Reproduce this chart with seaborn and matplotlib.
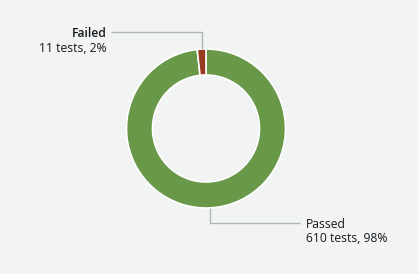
import numpy as np
import matplotlib
matplotlib.use("Agg")
import matplotlib.pyplot as plt
import seaborn as sns

labels = ["Passed", "Failed"]
counts = [610, 11]
colors = ["#6a9849", "#983a1f"]

sns.set_theme(style="white")
plt.rcParams["font.family"] = ["Open Sans", "DejaVu Sans"]

W, H = 419, 274
fig = plt.figure(figsize=(W / 100, H / 100), dpi=100)
bg = "#f2f3f3"
fig.patch.set_facecolor(bg)
ax = fig.add_axes([0, 0, 1, 1])
ax.set_facecolor(bg)

cx, cy, R = 206, H - 128.5, 79.5
width = 26
wedges, _ = ax.pie(counts, colors=colors, startangle=90, counterclock=False,
                   center=(cx, cy), radius=R,
                   wedgeprops=dict(width=width, edgecolor="white", linewidth=1.2))
ax.set_xlim(0, W)
ax.set_ylim(0, H)
ax.set_aspect("equal")
ax.axis("off")

total = sum(counts)
line_c = "#aab7b8"
txt_c = "#16191f"
fs = 8.7
for w, lab, n in zip(wedges, labels, counts):
    ang = np.deg2rad((w.theta1 + w.theta2) / 2)
    px = cx + R * np.cos(ang)
    py = cy + R * np.sin(ang)
    pct = round(100 * n / total)
    if py > cy:
        ly = H - 32
        ax.plot([px, px, 111], [py, ly, ly], color=line_c, lw=1, solid_capstyle="butt")
        ax.text(107, ly - 1.5, lab, ha="right", va="center", fontsize=fs, fontweight="semibold", color=txt_c)
        ax.text(107, ly - 16.5, f"{n} tests, {pct}%", ha="right", va="center", fontsize=fs, color=txt_c)
    else:
        ly = H - 223
        ax.plot([px, px, 300], [py, ly, ly], color=line_c, lw=1, solid_capstyle="butt")
        ax.text(306, ly - 1, lab, ha="left", va="center", fontsize=fs, color=txt_c)
        ax.text(306, ly - 16, f"{n} tests, {pct}%", ha="left", va="center", fontsize=fs, color=txt_c)

fig.savefig("out.png", dpi=100, facecolor=bg)
